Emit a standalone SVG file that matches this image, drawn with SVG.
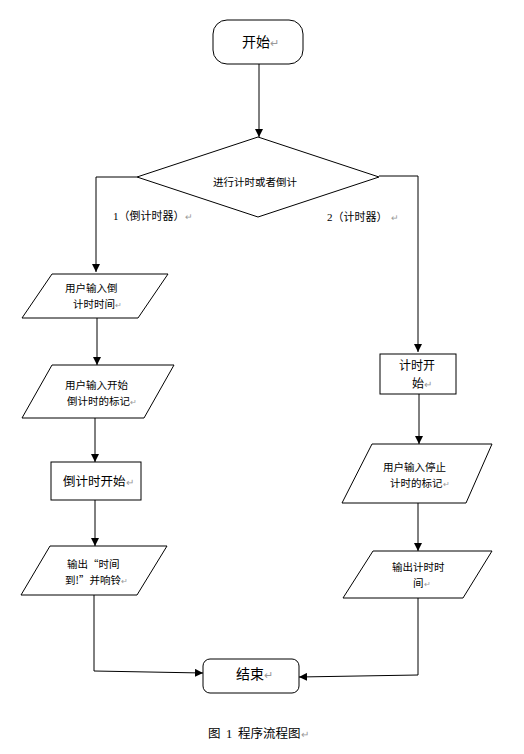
<svg xmlns="http://www.w3.org/2000/svg" width="524" height="754" viewBox="0 0 524 754">
<style>
.s{fill:#fff;stroke:#000;stroke-width:1}
.c{fill:none;stroke:#000;stroke-width:1}
text{font-family:"Noto Sans CJK SC","Liberation Sans",sans-serif;fill:#000}
.t11{font-size:10.5px}
.t13{font-size:12.5px}
.t12{font-size:12px}
.t14{font-size:14px}
.lb{font-family:"Liberation Serif","Noto Sans CJK SC",serif;font-size:11px}
.r{fill:#999;font-size:0.8em}
</style>
<defs>
<marker id="a" viewBox="0 0 10 10" refX="10" refY="5" markerWidth="8" markerHeight="8" markerUnits="userSpaceOnUse" orient="auto">
<path d="M0,0 L10,5 L0,10 Z" fill="#000"/>
</marker>
</defs>
<rect width="524" height="754" fill="#fff"/>
<g id="connectors">
<path class="c" d="M259,64 V137" marker-end="url(#a)"/>
<path class="c" d="M137,177 H96 V272" marker-end="url(#a)"/>
<path class="c" d="M379,176 H418 V352" marker-end="url(#a)"/>
<path class="c" d="M97,318 V365" marker-end="url(#a)"/>
<path class="c" d="M95,418 V462" marker-end="url(#a)"/>
<path class="c" d="M95,500 V546" marker-end="url(#a)"/>
<path class="c" d="M94,595 V671 L203,673" marker-end="url(#a)"/>
<path class="c" d="M419,394 V444" marker-end="url(#a)"/>
<path class="c" d="M418,503 V551" marker-end="url(#a)"/>
<path class="c" d="M418,598 V675 L299,677" marker-end="url(#a)"/>
<text class="lb" x="113" y="220">1（倒计时器）<tspan class="r">↵</tspan></text>
<text class="lb" x="327" y="221">2（计时器）<tspan class="r" dx="3">↵</tspan></text>
</g>
<g id="start">
<rect class="s" x="213" y="20" width="90" height="44" rx="14"/>
<text class="t14" x="242" y="47">开始<tspan class="r">↵</tspan></text>
</g>
<g id="decision">
<polygon class="s" points="258,137 379,177 258,217 137,177"/>
<text class="t11" x="213" y="186">进行计时或者倒计</text>
</g>
<g id="input-countdown-time">
<polygon class="s" points="52,274 168,274 138,318 22,318"/>
<text class="t11" x="65" y="292">用户输入倒</text>
<text class="t11" x="73" y="308">计时时间<tspan class="r">↵</tspan></text>
</g>
<g id="input-countdown-start">
<polygon class="s" points="52,365 174,365 144,418 22,418"/>
<text class="t11" x="65" y="389">用户输入开始</text>
<text class="t11" x="67" y="405">倒计时的标记<tspan class="r">↵</tspan></text>
</g>
<g id="countdown-start">
<rect class="s" x="51" y="462" width="90" height="38"/>
<text class="t13" x="63" y="486">倒计时开始<tspan class="r">↵</tspan></text>
</g>
<g id="output-ring">
<polygon class="s" points="50,546 167,546 137,595 21,595"/>
<text class="t11" x="67" y="568">输出“时间</text>
<text class="t11" x="65" y="584">到!”并响铃<tspan class="r">↵</tspan></text>
</g>
<g id="timer-start">
<rect class="s" x="380" y="354" width="76" height="40"/>
<text class="t12" x="399" y="370">计时开</text>
<text class="t12" x="412" y="388">始<tspan class="r">↵</tspan></text>
</g>
<g id="input-stop">
<polygon class="s" points="372,444 492,444 466,503 342,503"/>
<text class="t11" x="383" y="471">用户输入停止</text>
<text class="t11" x="390" y="487">计时的标记<tspan class="r">↵</tspan></text>
</g>
<g id="output-time">
<polygon class="s" points="373,551 492,551 463,598 343,598"/>
<text class="t11" x="392" y="571">输出计时时</text>
<text class="t11" x="413" y="587">间<tspan class="r">↵</tspan></text>
</g>
<g id="end">
<rect class="s" x="203" y="659" width="96" height="34" rx="7"/>
<text class="t14" x="236" y="679">结束<tspan class="r">↵</tspan></text>
</g>
<text class="t13" y="738"><tspan x="208">图</tspan><tspan x="226" font-family="Liberation Serif, serif">1</tspan><tspan x="238">程序流程图</tspan><tspan class="r">↵</tspan></text>
</svg>
